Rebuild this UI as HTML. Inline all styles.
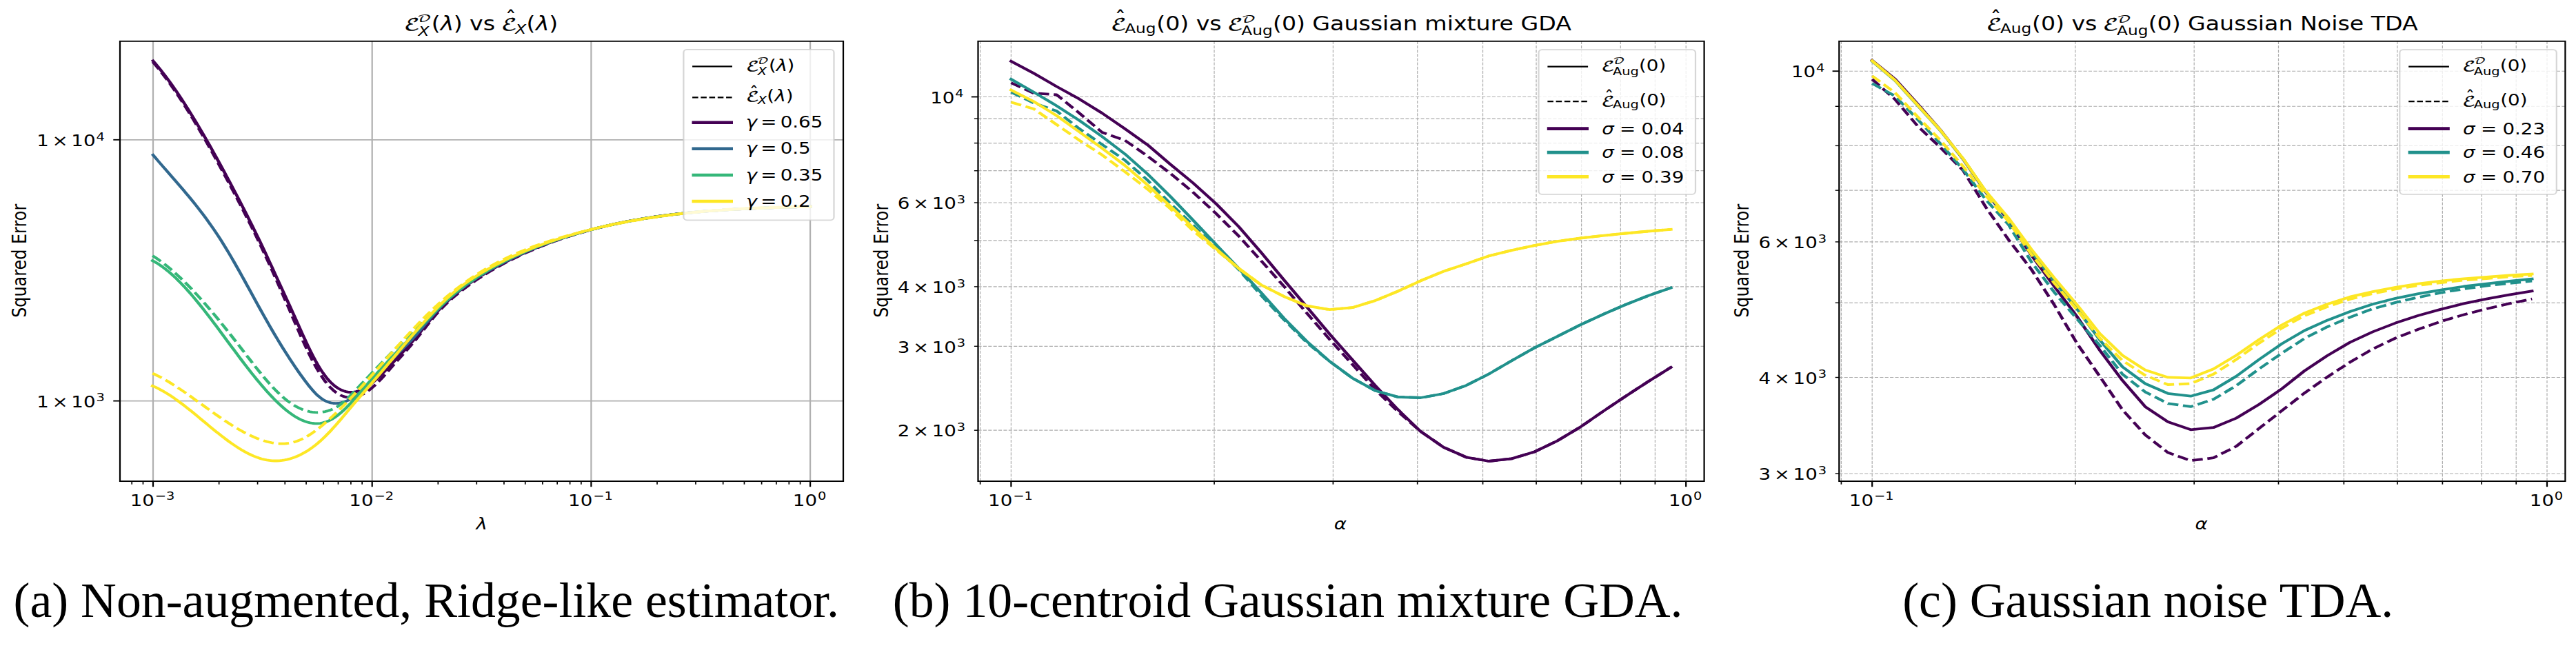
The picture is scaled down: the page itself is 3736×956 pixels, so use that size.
<!DOCTYPE html>
<html lang="en"><head><meta charset="utf-8"><title>Figure</title>
<style>
html,body{margin:0;padding:0;background:#fff;}
body{width:3736px;height:956px;overflow:hidden;position:relative;}
svg{position:absolute;left:0;top:0;display:block;}
.cap{position:absolute;top:836.02px;font-family:'Liberation Serif','DejaVu Serif',serif;font-size:71.75px;line-height:1;color:#000;white-space:nowrap;margin:0;}
</style></head><body>
<svg width="3736" height="956" viewBox="0 0 3736 956">
<rect width="3736" height="956" fill="#fff"/>
<g transform="scale(1.2,1)">
<g id="c1">
<line x1="185" y1="59.8" x2="185" y2="698.1" stroke="#b0b0b0" stroke-width="1.85" />
<line x1="449.75" y1="59.8" x2="449.75" y2="698.1" stroke="#b0b0b0" stroke-width="1.85" />
<line x1="714.5" y1="59.8" x2="714.5" y2="698.1" stroke="#b0b0b0" stroke-width="1.85" />
<line x1="979.25" y1="59.8" x2="979.25" y2="698.1" stroke="#b0b0b0" stroke-width="1.85" />
<line x1="145" y1="202.8" x2="1019.17" y2="202.8" stroke="#b0b0b0" stroke-width="1.85" />
<line x1="145" y1="581.6" x2="1019.17" y2="581.6" stroke="#b0b0b0" stroke-width="1.85" />
<clipPath id="cp1"><rect x="145" y="59.8" width="874.17" height="638.3"/></clipPath><g clip-path="url(#cp1)">
<path d="M185,88.31 L188.07,92.59 L191.14,97.01 L194.2,101.57 L197.27,106.25 L200.34,111.07 L203.41,116.01 L206.47,121.07 L209.54,126.25 L212.61,131.55 L215.68,136.95 L218.74,142.46 L221.81,148.08 L224.88,153.79 L227.95,159.61 L231.01,165.51 L234.08,171.51 L237.15,177.59 L240.22,183.75 L243.28,189.99 L246.35,196.31 L249.42,202.7 L252.49,209.16 L255.55,215.68 L258.62,222.27 L261.69,228.91 L264.76,235.6 L267.82,242.35 L270.89,249.14 L273.96,255.98 L277.03,262.86 L280.09,269.78 L283.16,276.74 L286.23,283.75 L289.3,290.81 L292.36,297.93 L295.43,305.1 L298.5,312.34 L301.57,319.64 L304.64,327.01 L307.7,334.46 L310.77,341.98 L313.84,349.58 L316.91,357.27 L319.97,365.05 L323.04,372.9 L326.11,380.83 L329.18,388.8 L332.24,396.81 L335.31,404.84 L338.38,412.88 L341.45,420.9 L344.51,428.93 L347.58,436.97 L350.65,445.03 L353.72,453.13 L356.78,461.28 L359.85,469.48 L362.92,477.67 L365.99,485.8 L369.05,493.8 L372.12,501.62 L375.19,509.19 L378.26,516.46 L381.32,523.36 L384.39,529.84 L387.46,535.84 L390.53,541.32 L393.59,546.28 L396.66,550.72 L399.73,554.66 L402.8,558.1 L405.86,561.05 L408.93,563.53 L412,565.53 L415.07,567.07 L418.14,568.16 L421.2,568.81 L424.27,569.01 L427.34,568.79 L430.41,568.15 L433.47,567.1 L436.54,565.65 L439.61,563.84 L442.68,561.69 L445.74,559.23 L448.81,556.49 L451.88,553.5 L454.95,550.29 L458.01,546.88 L461.08,543.32 L464.15,539.61 L467.22,535.8 L470.28,531.91 L473.35,527.98 L476.42,524.02 L479.49,520.08 L482.55,516.16 L485.62,512.24 L488.69,508.31 L491.76,504.34 L494.82,500.3 L497.89,496.17 L500.96,491.92 L504.03,487.54 L507.09,483.08 L510.16,478.55 L513.23,474.01 L516.3,469.47 L519.36,464.98 L522.43,460.57 L525.5,456.26 L528.57,452.11 L531.64,448.12 L534.7,444.29 L537.77,440.62 L540.84,437.08 L543.91,433.68 L546.97,430.4 L550.04,427.24 L553.11,424.18 L556.18,421.23 L559.24,418.38 L562.31,415.62 L565.38,412.94 L568.45,410.35 L571.51,407.84 L574.58,405.39 L577.65,403.01 L580.72,400.69 L583.78,398.42 L586.85,396.2 L589.92,394.02 L592.99,391.89 L596.05,389.79 L599.12,387.73 L602.19,385.71 L605.26,383.73 L608.32,381.79 L611.39,379.88 L614.46,378.01 L617.53,376.18 L620.59,374.38 L623.66,372.61 L626.73,370.88 L629.8,369.18 L632.86,367.51 L635.93,365.88 L639,364.28 L642.07,362.71 L645.14,361.16 L648.2,359.65 L651.27,358.17 L654.34,356.71 L657.41,355.29 L660.47,353.89 L663.54,352.51 L666.61,351.16 L669.68,349.84 L672.74,348.54 L675.81,347.27 L678.88,346.02 L681.95,344.79 L685.01,343.59 L688.08,342.41 L691.15,341.26 L694.22,340.12 L697.28,339.01 L700.35,337.93 L703.42,336.86 L706.49,335.82 L709.55,334.79 L712.62,333.79 L715.69,332.81 L718.76,331.85 L721.82,330.91 L724.89,330 L727.96,329.1 L731.03,328.22 L734.09,327.36 L737.16,326.52 L740.23,325.7 L743.3,324.9 L746.36,324.12 L749.43,323.35 L752.5,322.6 L755.57,321.87 L758.64,321.16 L761.7,320.47 L764.77,319.79 L767.84,319.13 L770.91,318.49 L773.97,317.86 L777.04,317.25 L780.11,316.65 L783.18,316.07 L786.24,315.51 L789.31,314.96 L792.38,314.42 L795.45,313.9 L798.51,313.39 L801.58,312.9 L804.65,312.42 L807.72,311.96 L810.78,311.51 L813.85,311.07 L816.92,310.64 L819.99,310.23 L823.05,309.82 L826.12,309.43 L829.19,309.06 L832.26,308.69 L835.32,308.33 L838.39,307.99 L841.46,307.65 L844.53,307.33 L847.59,307.02 L850.66,306.71 L853.73,306.42 L856.8,306.14 L859.86,305.86 L862.93,305.6 L866,305.34 L869.07,305.09 L872.14,304.85 L875.2,304.62 L878.27,304.39 L881.34,304.17 L884.41,303.96 L887.47,303.76 L890.54,303.56 L893.61,303.37 L896.68,303.18 L899.74,303.01 L902.81,302.83 L905.88,302.66 L908.95,302.5 L912.01,302.34 L915.08,302.19 L918.15,302.04 L921.22,301.9 L924.28,301.75 L927.35,301.62 L930.42,301.48 L933.49,301.35 L936.55,301.22 L939.62,301.1 L942.69,300.98 L945.76,300.85 L948.82,300.73 L951.89,300.62 L954.96,300.5 L958.03,300.38 L961.09,300.27 L964.16,300.16 L967.23,300.04 L970.3,299.93 L973.36,299.81 L976.43,299.7 L979.5,299.59" fill="none" stroke="#440154" stroke-width="3.8" stroke-linejoin="round" stroke-linecap="square" />
<path d="M184.58,89.74 L187.65,93.99 L190.72,98.38 L193.79,102.92 L196.86,107.6 L199.93,112.43 L203,117.38 L206.07,122.47 L209.14,127.68 L212.21,133.02 L215.28,138.47 L218.34,144.04 L221.41,149.71 L224.48,155.49 L227.55,161.36 L230.62,167.34 L233.69,173.4 L236.76,179.55 L239.83,185.78 L242.9,192.09 L245.97,198.48 L249.04,204.93 L252.11,211.45 L255.17,218.04 L258.24,224.67 L261.31,231.36 L264.38,238.1 L267.45,244.88 L270.52,251.7 L273.59,258.56 L276.66,265.44 L279.73,272.36 L282.8,279.32 L285.87,286.33 L288.94,293.38 L292,300.49 L295.07,307.66 L298.14,314.9 L301.21,322.21 L304.28,329.59 L307.35,337.06 L310.42,344.62 L313.49,352.28 L316.56,360.03 L319.63,367.89 L322.7,375.85 L325.77,383.91 L328.83,392.04 L331.9,400.26 L334.97,408.55 L338.04,416.89 L341.11,425.29 L344.18,433.73 L347.25,442.21 L350.32,450.72 L353.39,459.25 L356.46,467.79 L359.53,476.31 L362.6,484.73 L365.66,493.03 L368.73,501.13 L371.8,508.98 L374.87,516.53 L377.94,523.73 L381.01,530.57 L384.08,537.01 L387.15,543.02 L390.22,548.59 L393.29,553.67 L396.36,558.25 L399.43,562.3 L402.49,565.83 L405.56,568.84 L408.63,571.34 L411.7,573.35 L414.77,574.89 L417.84,575.96 L420.91,576.57 L423.98,576.74 L427.05,576.48 L430.12,575.81 L433.19,574.73 L436.26,573.25 L439.32,571.39 L442.39,569.17 L445.46,566.59 L448.53,563.68 L451.6,560.48 L454.67,557.02 L457.74,553.34 L460.81,549.49 L463.88,545.48 L466.95,541.37 L470.02,537.18 L473.09,532.96 L476.16,528.73 L479.22,524.54 L482.29,520.4 L485.36,516.29 L488.43,512.17 L491.5,508.04 L494.57,503.86 L497.64,499.61 L500.71,495.28 L503.78,490.83 L506.85,486.27 L509.92,481.64 L512.99,476.98 L516.05,472.32 L519.12,467.7 L522.19,463.17 L525.26,458.75 L528.33,454.5 L531.4,450.42 L534.47,446.53 L537.54,442.8 L540.61,439.23 L543.68,435.81 L546.75,432.52 L549.82,429.36 L552.88,426.31 L555.95,423.36 L559.02,420.51 L562.09,417.75 L565.16,415.05 L568.23,412.42 L571.3,409.84 L574.37,407.32 L577.44,404.85 L580.51,402.43 L583.58,400.07 L586.65,397.75 L589.71,395.49 L592.78,393.27 L595.85,391.1 L598.92,388.98 L601.99,386.9 L605.06,384.86 L608.13,382.87 L611.2,380.92 L614.27,379.01 L617.34,377.14 L620.41,375.3 L623.48,373.51 L626.54,371.75 L629.61,370.03 L632.68,368.34 L635.75,366.68 L638.82,365.06 L641.89,363.47 L644.96,361.9 L648.03,360.37 L651.1,358.86 L654.17,357.38 L657.24,355.93 L660.31,354.5 L663.37,353.1 L666.44,351.73 L669.51,350.38 L672.58,349.06 L675.65,347.76 L678.72,346.49 L681.79,345.24 L684.86,344.01 L687.93,342.81 L691,341.64 L694.07,340.48 L697.14,339.35 L700.2,338.24 L703.27,337.16 L706.34,336.1 L709.41,335.06 L712.48,334.04 L715.55,333.04 L718.62,332.07 L721.69,331.12 L724.76,330.18 L727.83,329.27 L730.9,328.38 L733.97,327.51 L737.04,326.66 L740.1,325.82 L743.17,325.01 L746.24,324.22 L749.31,323.44 L752.38,322.68 L755.45,321.95 L758.52,321.22 L761.59,320.52 L764.66,319.84 L767.73,319.17 L770.8,318.52 L773.87,317.88 L776.93,317.27 L780,316.66 L783.07,316.08 L786.14,315.51 L789.21,314.95 L792.28,314.41 L795.35,313.89 L798.42,313.38 L801.49,312.88 L804.56,312.4 L807.63,311.93 L810.7,311.47 L813.76,311.03 L816.83,310.6 L819.9,310.19 L822.97,309.79 L826.04,309.39 L829.11,309.01 L832.18,308.65 L835.25,308.29 L838.32,307.95 L841.39,307.61 L844.46,307.29 L847.53,306.98 L850.59,306.67 L853.66,306.38 L856.73,306.1 L859.8,305.82 L862.87,305.56 L865.94,305.3 L869.01,305.05 L872.08,304.81 L875.15,304.58 L878.22,304.36 L881.29,304.14 L884.36,303.93 L887.42,303.73 L890.49,303.54 L893.56,303.35 L896.63,303.16 L899.7,302.99 L902.77,302.82 L905.84,302.65 L908.91,302.49 L911.98,302.33 L915.05,302.18 L918.12,302.04 L921.19,301.89 L924.25,301.75 L927.32,301.62 L930.39,301.49 L933.46,301.36 L936.53,301.23 L939.6,301.11 L942.67,300.98 L945.74,300.87 L948.81,300.75 L951.88,300.63 L954.95,300.52 L958.02,300.4 L961.08,300.29 L964.15,300.17 L967.22,300.06 L970.29,299.95 L973.36,299.83 L976.43,299.72 L979.5,299.6" fill="none" stroke="#440154" stroke-width="3.8" stroke-linejoin="round" stroke-linecap="butt" stroke-dasharray="12.9 5.6" />
<path d="M185,224.87 L188.07,229.2 L191.14,233.5 L194.2,237.76 L197.27,242 L200.34,246.22 L203.41,250.43 L206.47,254.64 L209.54,258.86 L212.61,263.09 L215.68,267.34 L218.74,271.62 L221.81,275.93 L224.88,280.29 L227.95,284.69 L231.01,289.16 L234.08,293.69 L237.15,298.29 L240.22,302.97 L243.28,307.74 L246.35,312.6 L249.42,317.57 L252.49,322.65 L255.55,327.84 L258.62,333.16 L261.69,338.61 L264.76,344.2 L267.82,349.94 L270.89,355.83 L273.96,361.86 L277.03,368.02 L280.09,374.29 L283.16,380.67 L286.23,387.13 L289.3,393.67 L292.36,400.27 L295.43,406.92 L298.5,413.61 L301.57,420.32 L304.64,427.04 L307.7,433.75 L310.77,440.45 L313.84,447.12 L316.91,453.75 L319.97,460.32 L323.04,466.81 L326.11,473.24 L329.18,479.57 L332.24,485.82 L335.31,491.99 L338.38,498.06 L341.45,504.03 L344.51,509.91 L347.58,515.69 L350.65,521.36 L353.72,526.93 L356.78,532.38 L359.85,537.72 L362.92,542.95 L365.99,548.06 L369.05,553.04 L372.12,557.85 L375.19,562.43 L378.26,566.71 L381.32,570.65 L384.39,574.16 L387.46,577.21 L390.53,579.74 L393.59,581.77 L396.66,583.31 L399.73,584.38 L402.8,585.01 L405.86,585.21 L408.93,585 L412,584.4 L415.07,583.42 L418.14,582.09 L421.2,580.42 L424.27,578.43 L427.34,576.15 L430.41,573.58 L433.47,570.75 L436.54,567.69 L439.61,564.41 L442.68,560.94 L445.74,557.32 L448.81,553.56 L451.88,549.69 L454.95,545.74 L458.01,541.74 L461.08,537.7 L464.15,533.66 L467.22,529.64 L470.28,525.68 L473.35,521.78 L476.42,517.99 L479.49,514.31 L482.55,510.72 L485.62,507.17 L488.69,503.61 L491.76,500 L494.82,496.29 L497.89,492.45 L500.96,488.43 L504.03,484.26 L507.09,479.99 L510.16,475.65 L513.23,471.27 L516.3,466.9 L519.36,462.56 L522.43,458.29 L525.5,454.13 L528.57,450.12 L531.64,446.27 L534.7,442.58 L537.77,439.03 L540.84,435.62 L543.91,432.32 L546.97,429.14 L550.04,426.05 L553.11,423.06 L556.18,420.16 L559.24,417.34 L562.31,414.61 L565.38,411.96 L568.45,409.38 L571.51,406.87 L574.58,404.42 L577.65,402.04 L580.72,399.72 L583.78,397.45 L586.85,395.22 L589.92,393.05 L592.99,390.91 L596.05,388.82 L599.12,386.78 L602.19,384.77 L605.26,382.8 L608.32,380.87 L611.39,378.99 L614.46,377.14 L617.53,375.32 L620.59,373.55 L623.66,371.81 L626.73,370.1 L629.8,368.43 L632.86,366.79 L635.93,365.19 L639,363.61 L642.07,362.07 L645.14,360.56 L648.2,359.08 L651.27,357.63 L654.34,356.2 L657.41,354.81 L660.47,353.44 L663.54,352.09 L666.61,350.77 L669.68,349.48 L672.74,348.21 L675.81,346.96 L678.88,345.73 L681.95,344.53 L685.01,343.35 L688.08,342.19 L691.15,341.06 L694.22,339.94 L697.28,338.85 L700.35,337.78 L703.42,336.73 L706.49,335.71 L709.55,334.7 L712.62,333.71 L715.69,332.75 L718.76,331.8 L721.82,330.87 L724.89,329.97 L727.96,329.08 L731.03,328.21 L734.09,327.36 L737.16,326.53 L740.23,325.72 L743.3,324.92 L746.36,324.15 L749.43,323.39 L752.5,322.64 L755.57,321.92 L758.64,321.21 L761.7,320.52 L764.77,319.85 L767.84,319.19 L770.91,318.55 L773.97,317.92 L777.04,317.31 L780.11,316.72 L783.18,316.14 L786.24,315.57 L789.31,315.02 L792.38,314.48 L795.45,313.96 L798.51,313.45 L801.58,312.96 L804.65,312.48 L807.72,312.01 L810.78,311.56 L813.85,311.11 L816.92,310.68 L819.99,310.27 L823.05,309.86 L826.12,309.47 L829.19,309.09 L832.26,308.72 L835.32,308.36 L838.39,308.01 L841.46,307.67 L844.53,307.34 L847.59,307.02 L850.66,306.72 L853.73,306.42 L856.8,306.13 L859.86,305.85 L862.93,305.58 L866,305.32 L869.07,305.06 L872.14,304.82 L875.2,304.58 L878.27,304.35 L881.34,304.13 L884.41,303.92 L887.47,303.71 L890.54,303.51 L893.61,303.32 L896.68,303.13 L899.74,302.95 L902.81,302.77 L905.88,302.6 L908.95,302.44 L912.01,302.28 L915.08,302.13 L918.15,301.98 L921.22,301.83 L924.28,301.69 L927.35,301.56 L930.42,301.42 L933.49,301.29 L936.55,301.17 L939.62,301.04 L942.69,300.93 L945.76,300.81 L948.82,300.69 L951.89,300.58 L954.96,300.47 L958.03,300.36 L961.09,300.25 L964.16,300.15 L967.23,300.04 L970.3,299.94 L973.36,299.83 L976.43,299.73 L979.5,299.62" fill="none" stroke="#31688e" stroke-width="3.8" stroke-linejoin="round" stroke-linecap="square" />
<path d="M184.33,378.11 L187.4,380.11 L190.47,382.31 L193.54,384.71 L196.61,387.3 L199.68,390.07 L202.75,393.02 L205.82,396.13 L208.89,399.4 L211.96,402.83 L215.03,406.4 L218.1,410.11 L221.18,413.95 L224.25,417.92 L227.32,422 L230.39,426.2 L233.46,430.49 L236.53,434.88 L239.6,439.36 L242.67,443.93 L245.74,448.56 L248.81,453.27 L251.88,458.03 L254.95,462.84 L258.02,467.7 L261.09,472.6 L264.16,477.53 L267.23,482.49 L270.3,487.46 L273.37,492.44 L276.44,497.42 L279.51,502.4 L282.58,507.36 L285.65,512.31 L288.72,517.23 L291.79,522.12 L294.86,526.96 L297.93,531.76 L301,536.5 L304.07,541.19 L307.14,545.8 L310.21,550.33 L313.28,554.78 L316.35,559.14 L319.42,563.4 L322.49,567.56 L325.56,571.61 L328.63,575.53 L331.7,579.33 L334.77,582.99 L337.84,586.51 L340.91,589.87 L343.98,593.06 L347.05,596.07 L350.12,598.9 L353.19,601.52 L356.26,603.94 L359.33,606.13 L362.4,608.09 L365.47,609.8 L368.54,611.26 L371.61,612.45 L374.68,613.37 L377.75,613.99 L380.82,614.32 L383.89,614.34 L386.96,614.04 L390.03,613.41 L393.1,612.43 L396.17,611.1 L399.24,609.41 L402.31,607.35 L405.38,604.94 L408.45,602.21 L411.52,599.2 L414.59,595.92 L417.66,592.42 L420.73,588.72 L423.8,584.85 L426.87,580.84 L429.94,576.72 L433.01,572.51 L436.08,568.26 L439.16,563.98 L442.23,559.71 L445.3,555.47 L448.37,551.27 L451.44,547.1 L454.51,542.96 L457.58,538.87 L460.65,534.81 L463.72,530.8 L466.79,526.83 L469.86,522.89 L472.93,518.99 L476,515.11 L479.07,511.25 L482.14,507.4 L485.21,503.55 L488.28,499.71 L491.35,495.85 L494.42,491.98 L497.49,488.08 L500.56,484.17 L503.63,480.24 L506.7,476.31 L509.77,472.38 L512.84,468.47 L515.91,464.57 L518.98,460.7 L522.05,456.87 L525.12,453.08 L528.19,449.35 L531.26,445.67 L534.33,442.07 L537.4,438.54 L540.47,435.1 L543.54,431.75 L546.61,428.5 L549.68,425.36 L552.75,422.32 L555.82,419.38 L558.89,416.53 L561.96,413.77 L565.03,411.1 L568.1,408.5 L571.17,405.98 L574.24,403.53 L577.31,401.15 L580.38,398.83 L583.45,396.56 L586.52,394.35 L589.59,392.18 L592.66,390.06 L595.73,387.99 L598.8,385.95 L601.87,383.96 L604.94,382.02 L608.01,380.11 L611.08,378.24 L614.15,376.42 L617.22,374.63 L620.29,372.87 L623.36,371.16 L626.43,369.48 L629.5,367.84 L632.57,366.23 L635.64,364.65 L638.71,363.1 L641.78,361.59 L644.85,360.11 L647.92,358.65 L650.99,357.23 L654.06,355.83 L657.14,354.46 L660.21,353.12 L663.28,351.8 L666.35,350.5 L669.42,349.23 L672.49,347.99 L675.56,346.76 L678.63,345.56 L681.7,344.37 L684.77,343.21 L687.84,342.07 L690.91,340.96 L693.98,339.86 L697.05,338.79 L700.12,337.73 L703.19,336.7 L706.26,335.68 L709.33,334.69 L712.4,333.71 L715.47,332.76 L718.54,331.82 L721.61,330.9 L724.68,330 L727.75,329.13 L730.82,328.26 L733.89,327.42 L736.96,326.6 L740.03,325.79 L743.1,325 L746.17,324.23 L749.24,323.47 L752.31,322.73 L755.38,322.01 L758.45,321.31 L761.52,320.62 L764.59,319.95 L767.66,319.29 L770.73,318.65 L773.8,318.02 L776.87,317.41 L779.94,316.81 L783.01,316.23 L786.08,315.67 L789.15,315.11 L792.22,314.57 L795.29,314.05 L798.36,313.54 L801.43,313.04 L804.5,312.56 L807.57,312.08 L810.64,311.63 L813.71,311.18 L816.78,310.75 L819.85,310.32 L822.92,309.91 L825.99,309.52 L829.06,309.13 L832.13,308.75 L835.2,308.39 L838.27,308.04 L841.34,307.69 L844.41,307.36 L847.48,307.04 L850.55,306.72 L853.62,306.42 L856.69,306.13 L859.76,305.84 L862.83,305.57 L865.9,305.3 L868.97,305.04 L872.05,304.79 L875.12,304.55 L878.19,304.32 L881.26,304.09 L884.33,303.88 L887.4,303.67 L890.47,303.46 L893.54,303.26 L896.61,303.07 L899.68,302.89 L902.75,302.71 L905.82,302.54 L908.89,302.38 L911.96,302.22 L915.03,302.06 L918.1,301.91 L921.17,301.77 L924.24,301.63 L927.31,301.49 L930.38,301.36 L933.45,301.23 L936.52,301.11 L939.59,300.99 L942.66,300.87 L945.73,300.76 L948.8,300.65 L951.87,300.54 L954.94,300.44 L958.01,300.34 L961.08,300.24 L964.15,300.14 L967.22,300.04 L970.29,299.94 L973.36,299.85 L976.43,299.76 L979.5,299.66" fill="none" stroke="#35b779" stroke-width="3.8" stroke-linejoin="round" stroke-linecap="square" />
<path d="M184.33,370.9 L187.4,373.27 L190.47,375.76 L193.54,378.37 L196.61,381.09 L199.68,383.93 L202.75,386.87 L205.82,389.92 L208.89,393.08 L211.96,396.33 L215.03,399.68 L218.1,403.13 L221.18,406.66 L224.25,410.29 L227.32,413.99 L230.39,417.78 L233.46,421.65 L236.53,425.59 L239.6,429.6 L242.67,433.69 L245.74,437.84 L248.81,442.05 L251.88,446.32 L254.95,450.64 L258.02,455.02 L261.09,459.45 L264.16,463.93 L267.23,468.45 L270.3,473.01 L273.37,477.61 L276.44,482.24 L279.51,486.91 L282.58,491.6 L285.65,496.32 L288.72,501.06 L291.79,505.82 L294.86,510.59 L297.93,515.37 L301,520.15 L304.07,524.9 L307.14,529.61 L310.21,534.27 L313.28,538.87 L316.35,543.39 L319.42,547.82 L322.49,552.14 L325.56,556.33 L328.63,560.39 L331.7,564.3 L334.77,568.05 L337.84,571.61 L340.91,574.99 L343.98,578.15 L347.05,581.1 L350.12,583.82 L353.19,586.32 L356.26,588.59 L359.33,590.63 L362.4,592.43 L365.47,594 L368.54,595.33 L371.61,596.42 L374.68,597.26 L377.75,597.85 L380.82,598.2 L383.89,598.29 L386.96,598.13 L390.03,597.71 L393.1,597.03 L396.17,596.08 L399.24,594.87 L402.31,593.37 L405.38,591.56 L408.45,589.4 L411.52,586.87 L414.59,583.96 L417.66,580.72 L420.73,577.23 L423.8,573.53 L426.87,569.7 L429.94,565.8 L433.01,561.89 L436.08,557.99 L439.16,554.1 L442.23,550.23 L445.3,546.36 L448.37,542.51 L451.44,538.67 L454.51,534.83 L457.58,531.01 L460.65,527.2 L463.72,523.4 L466.79,519.62 L469.86,515.84 L472.93,512.07 L476,508.31 L479.07,504.57 L482.14,500.84 L485.21,497.12 L488.28,493.42 L491.35,489.74 L494.42,486.08 L497.49,482.44 L500.56,478.82 L503.63,475.24 L506.7,471.68 L509.77,468.15 L512.84,464.65 L515.91,461.19 L518.98,457.76 L522.05,454.37 L525.12,451.02 L528.19,447.72 L531.26,444.45 L534.33,441.24 L537.4,438.07 L540.47,434.95 L543.54,431.88 L546.61,428.86 L549.68,425.9 L552.75,422.99 L555.82,420.14 L558.89,417.34 L561.96,414.6 L565.03,411.91 L568.1,409.28 L571.17,406.7 L574.24,404.18 L577.31,401.71 L580.38,399.3 L583.45,396.94 L586.52,394.63 L589.59,392.38 L592.66,390.18 L595.73,388.04 L598.8,385.95 L601.87,383.91 L604.94,381.91 L608.01,379.97 L611.08,378.07 L614.15,376.21 L617.22,374.4 L620.29,372.64 L623.36,370.91 L626.43,369.22 L629.5,367.58 L632.57,365.97 L635.64,364.39 L638.71,362.86 L641.78,361.35 L644.85,359.88 L647.92,358.44 L650.99,357.04 L654.06,355.66 L657.14,354.3 L660.21,352.98 L663.28,351.68 L666.35,350.4 L669.42,349.15 L672.49,347.92 L675.56,346.71 L678.63,345.52 L681.7,344.36 L684.77,343.21 L687.84,342.08 L690.91,340.98 L693.98,339.89 L697.05,338.83 L700.12,337.78 L703.19,336.76 L706.26,335.75 L709.33,334.76 L712.4,333.8 L715.47,332.85 L718.54,331.92 L721.61,331 L724.68,330.11 L727.75,329.23 L730.82,328.38 L733.89,327.54 L736.96,326.71 L740.03,325.91 L743.1,325.12 L746.17,324.35 L749.24,323.59 L752.31,322.85 L755.38,322.13 L758.45,321.42 L761.52,320.73 L764.59,320.06 L767.66,319.4 L770.73,318.75 L773.8,318.12 L776.87,317.51 L779.94,316.91 L783.01,316.32 L786.08,315.75 L789.15,315.19 L792.22,314.65 L795.29,314.12 L798.36,313.6 L801.43,313.1 L804.5,312.61 L807.57,312.13 L810.64,311.67 L813.71,311.22 L816.78,310.78 L819.85,310.35 L822.92,309.93 L825.99,309.53 L829.06,309.13 L832.13,308.75 L835.2,308.38 L838.27,308.02 L841.34,307.67 L844.41,307.33 L847.48,307 L850.55,306.68 L853.62,306.38 L856.69,306.08 L859.76,305.79 L862.83,305.51 L865.9,305.24 L868.97,304.97 L872.05,304.72 L875.12,304.47 L878.19,304.24 L881.26,304.01 L884.33,303.79 L887.4,303.57 L890.47,303.37 L893.54,303.17 L896.61,302.98 L899.68,302.79 L902.75,302.61 L905.82,302.44 L908.89,302.27 L911.96,302.11 L915.03,301.96 L918.1,301.81 L921.17,301.67 L924.24,301.53 L927.31,301.4 L930.38,301.27 L933.45,301.15 L936.52,301.03 L939.59,300.92 L942.66,300.81 L945.73,300.7 L948.8,300.6 L951.87,300.5 L954.94,300.41 L958.01,300.31 L961.08,300.22 L964.15,300.14 L967.22,300.05 L970.29,299.97 L973.36,299.89 L976.43,299.81 L979.5,299.73" fill="none" stroke="#35b779" stroke-width="3.8" stroke-linejoin="round" stroke-linecap="butt" stroke-dasharray="12.9 5.6" />
<path d="M184.33,559.83 L187.4,561.43 L190.47,563.18 L193.54,565.07 L196.61,567.08 L199.68,569.23 L202.75,571.48 L205.82,573.85 L208.89,576.31 L211.96,578.87 L215.03,581.51 L218.1,584.23 L221.18,587.01 L224.25,589.86 L227.32,592.76 L230.39,595.71 L233.46,598.7 L236.53,601.71 L239.6,604.75 L242.67,607.81 L245.74,610.87 L248.81,613.93 L251.88,616.99 L254.95,620.03 L258.02,623.04 L261.09,626.03 L264.16,628.97 L267.23,631.87 L270.3,634.72 L273.37,637.5 L276.44,640.22 L279.51,642.86 L282.58,645.41 L285.65,647.87 L288.72,650.23 L291.79,652.48 L294.86,654.62 L297.93,656.63 L301,658.52 L304.07,660.26 L307.14,661.86 L310.21,663.3 L313.28,664.59 L316.35,665.7 L319.42,666.63 L322.49,667.38 L325.56,667.95 L328.63,668.32 L331.7,668.51 L334.77,668.51 L337.84,668.32 L340.91,667.94 L343.98,667.38 L347.05,666.63 L350.12,665.69 L353.19,664.57 L356.26,663.25 L359.33,661.76 L362.4,660.07 L365.47,658.2 L368.54,656.15 L371.61,653.91 L374.68,651.48 L377.75,648.87 L380.82,646.07 L383.89,643.09 L386.96,639.92 L390.03,636.56 L393.1,633.03 L396.17,629.31 L399.24,625.45 L402.31,621.45 L405.38,617.33 L408.45,613.12 L411.52,608.83 L414.59,604.49 L417.66,600.11 L420.73,595.72 L423.8,591.33 L426.87,586.97 L429.94,582.66 L433.01,578.38 L436.08,574.13 L439.16,569.89 L442.23,565.67 L445.3,561.44 L448.37,557.19 L451.44,552.92 L454.51,548.64 L457.58,544.33 L460.65,540.01 L463.72,535.67 L466.79,531.32 L469.86,526.96 L472.93,522.6 L476,518.22 L479.07,513.85 L482.14,509.48 L485.21,505.11 L488.28,500.76 L491.35,496.41 L494.42,492.08 L497.49,487.76 L500.56,483.47 L503.63,479.21 L506.7,474.98 L509.77,470.8 L512.84,466.66 L515.91,462.58 L518.98,458.55 L522.05,454.59 L525.12,450.7 L528.19,446.89 L531.26,443.16 L534.33,439.52 L537.4,435.97 L540.47,432.53 L543.54,429.19 L546.61,425.96 L549.68,422.85 L552.75,419.85 L555.82,416.95 L558.89,414.16 L561.96,411.45 L565.03,408.84 L568.1,406.31 L571.17,403.86 L574.24,401.48 L577.31,399.17 L580.38,396.92 L583.45,394.72 L586.52,392.58 L589.59,390.48 L592.66,388.43 L595.73,386.42 L598.8,384.45 L601.87,382.52 L604.94,380.63 L608.01,378.78 L611.08,376.96 L614.15,375.19 L617.22,373.45 L620.29,371.75 L623.36,370.08 L626.43,368.45 L629.5,366.84 L632.57,365.28 L635.64,363.74 L638.71,362.23 L641.78,360.76 L644.85,359.31 L647.92,357.89 L650.99,356.5 L654.06,355.14 L657.14,353.8 L660.21,352.49 L663.28,351.2 L666.35,349.93 L669.42,348.69 L672.49,347.47 L675.56,346.27 L678.63,345.09 L681.7,343.93 L684.77,342.8 L687.84,341.68 L690.91,340.59 L693.98,339.51 L697.05,338.46 L700.12,337.42 L703.19,336.41 L706.26,335.41 L709.33,334.44 L712.4,333.48 L715.47,332.54 L718.54,331.62 L721.61,330.72 L724.68,329.84 L727.75,328.97 L730.82,328.12 L733.89,327.3 L736.96,326.48 L740.03,325.69 L743.1,324.91 L746.17,324.15 L749.24,323.4 L752.31,322.68 L755.38,321.96 L758.45,321.27 L761.52,320.59 L764.59,319.92 L767.66,319.27 L770.73,318.64 L773.8,318.02 L776.87,317.41 L779.94,316.82 L783.01,316.25 L786.08,315.68 L789.15,315.14 L792.22,314.6 L795.29,314.08 L798.36,313.57 L801.43,313.08 L804.5,312.6 L807.57,312.13 L810.64,311.67 L813.71,311.23 L816.78,310.79 L819.85,310.37 L822.92,309.96 L825.99,309.57 L829.06,309.18 L832.13,308.8 L835.2,308.44 L838.27,308.08 L841.34,307.74 L844.41,307.41 L847.48,307.08 L850.55,306.77 L853.62,306.47 L856.69,306.17 L859.76,305.88 L862.83,305.61 L865.9,305.34 L868.97,305.08 L872.05,304.83 L875.12,304.58 L878.19,304.35 L881.26,304.12 L884.33,303.9 L887.4,303.69 L890.47,303.48 L893.54,303.28 L896.61,303.09 L899.68,302.9 L902.75,302.72 L905.82,302.55 L908.89,302.38 L911.96,302.22 L915.03,302.06 L918.1,301.91 L921.17,301.77 L924.24,301.62 L927.31,301.49 L930.38,301.35 L933.45,301.22 L936.52,301.1 L939.59,300.98 L942.66,300.86 L945.73,300.75 L948.8,300.64 L951.87,300.53 L954.94,300.42 L958.01,300.32 L961.08,300.22 L964.15,300.12 L967.22,300.02 L970.29,299.93 L973.36,299.84 L976.43,299.74 L979.5,299.65" fill="none" stroke="#fde725" stroke-width="3.8" stroke-linejoin="round" stroke-linecap="square" />
<path d="M184.33,541.54 L187.4,543.25 L190.47,545.07 L193.54,546.97 L196.61,548.96 L199.68,551.03 L202.75,553.18 L205.82,555.4 L208.89,557.68 L211.96,560.03 L215.03,562.42 L218.1,564.87 L221.18,567.36 L224.25,569.9 L227.32,572.46 L230.39,575.06 L233.46,577.68 L236.53,580.32 L239.6,582.97 L242.67,585.63 L245.74,588.29 L248.81,590.95 L251.88,593.6 L254.95,596.24 L258.02,598.87 L261.09,601.47 L264.16,604.04 L267.23,606.57 L270.3,609.07 L273.37,611.53 L276.44,613.94 L279.51,616.29 L282.58,618.58 L285.65,620.81 L288.72,622.97 L291.79,625.05 L294.86,627.05 L297.93,628.97 L301,630.8 L304.07,632.53 L307.14,634.16 L310.21,635.68 L313.28,637.1 L316.35,638.39 L319.42,639.57 L322.49,640.61 L325.56,641.52 L328.63,642.28 L331.7,642.89 L334.77,643.33 L337.84,643.59 L340.91,643.67 L343.98,643.57 L347.05,643.25 L350.12,642.73 L353.19,641.99 L356.26,641.02 L359.33,639.81 L362.4,638.36 L365.47,636.67 L368.54,634.77 L371.61,632.67 L374.68,630.37 L377.75,627.9 L380.82,625.27 L383.89,622.49 L386.96,619.57 L390.03,616.53 L393.1,613.38 L396.17,610.14 L399.24,606.82 L402.31,603.42 L405.38,599.95 L408.45,596.4 L411.52,592.8 L414.59,589.13 L417.66,585.41 L420.73,581.63 L423.8,577.8 L426.87,573.92 L429.94,570 L433.01,566.03 L436.08,562.04 L439.16,558.01 L442.23,553.95 L445.3,549.86 L448.37,545.75 L451.44,541.63 L454.51,537.49 L457.58,533.33 L460.65,529.17 L463.72,525.01 L466.79,520.84 L469.86,516.68 L472.93,512.53 L476,508.38 L479.07,504.25 L482.14,500.13 L485.21,496.04 L488.28,491.97 L491.35,487.93 L494.42,483.92 L497.49,479.95 L500.56,476.01 L503.63,472.12 L506.7,468.27 L509.77,464.47 L512.84,460.73 L515.91,457.04 L518.98,453.41 L522.05,449.85 L525.12,446.35 L528.19,442.92 L531.26,439.57 L534.33,436.29 L537.4,433.08 L540.47,429.95 L543.54,426.88 L546.61,423.88 L549.68,420.95 L552.75,418.08 L555.82,415.28 L558.89,412.55 L561.96,409.88 L565.03,407.26 L568.1,404.72 L571.17,402.23 L574.24,399.79 L577.31,397.42 L580.38,395.11 L583.45,392.84 L586.52,390.64 L589.59,388.48 L592.66,386.38 L595.73,384.33 L598.8,382.33 L601.87,380.38 L604.94,378.48 L608.01,376.62 L611.08,374.81 L614.15,373.05 L617.22,371.33 L620.29,369.65 L623.36,368.01 L626.43,366.41 L629.5,364.85 L632.57,363.33 L635.64,361.85 L638.71,360.4 L641.78,358.98 L644.85,357.61 L647.92,356.26 L650.99,354.94 L654.06,353.66 L657.14,352.4 L660.21,351.18 L663.28,349.98 L666.35,348.8 L669.42,347.66 L672.49,346.53 L675.56,345.43 L678.63,344.35 L681.7,343.29 L684.77,342.25 L687.84,341.23 L690.91,340.23 L693.98,339.24 L697.05,338.27 L700.12,337.31 L703.19,336.37 L706.26,335.44 L709.33,334.53 L712.4,333.63 L715.47,332.74 L718.54,331.87 L721.61,331.02 L724.68,330.18 L727.75,329.35 L730.82,328.54 L733.89,327.74 L736.96,326.95 L740.03,326.18 L743.1,325.42 L746.17,324.67 L749.24,323.94 L752.31,323.22 L755.38,322.52 L758.45,321.82 L761.52,321.14 L764.59,320.48 L767.66,319.82 L770.73,319.18 L773.8,318.55 L776.87,317.94 L779.94,317.33 L783.01,316.74 L786.08,316.16 L789.15,315.59 L792.22,315.04 L795.29,314.49 L798.36,313.96 L801.43,313.44 L804.5,312.93 L807.57,312.44 L810.64,311.95 L813.71,311.48 L816.78,311.01 L819.85,310.56 L822.92,310.12 L825.99,309.69 L829.06,309.27 L832.13,308.86 L835.2,308.47 L838.27,308.08 L841.34,307.7 L844.41,307.34 L847.48,306.98 L850.55,306.63 L853.62,306.3 L856.69,305.97 L859.76,305.65 L862.83,305.35 L865.9,305.05 L868.97,304.76 L872.05,304.49 L875.12,304.22 L878.19,303.96 L881.26,303.71 L884.33,303.47 L887.4,303.24 L890.47,303.01 L893.54,302.8 L896.61,302.59 L899.68,302.4 L902.75,302.21 L905.82,302.03 L908.89,301.86 L911.96,301.69 L915.03,301.54 L918.1,301.39 L921.17,301.25 L924.24,301.12 L927.31,301 L930.38,300.88 L933.45,300.77 L936.52,300.67 L939.59,300.58 L942.66,300.49 L945.73,300.41 L948.8,300.34 L951.87,300.28 L954.94,300.22 L958.01,300.17 L961.08,300.12 L964.15,300.08 L967.22,300.05 L970.29,300.02 L973.36,300.01 L976.43,299.99 L979.5,299.99" fill="none" stroke="#fde725" stroke-width="3.8" stroke-linejoin="round" stroke-linecap="butt" stroke-dasharray="12.9 5.6" />
</g>
<line x1="185" y1="698.1" x2="185" y2="706.2" stroke="#000" stroke-width="1.85" />
<line x1="449.75" y1="698.1" x2="449.75" y2="706.2" stroke="#000" stroke-width="1.85" />
<line x1="714.5" y1="698.1" x2="714.5" y2="706.2" stroke="#000" stroke-width="1.85" />
<line x1="979.25" y1="698.1" x2="979.25" y2="706.2" stroke="#000" stroke-width="1.85" />
<line x1="159.34" y1="698.1" x2="159.34" y2="702.7" stroke="#000" stroke-width="1.4" />
<line x1="172.89" y1="698.1" x2="172.89" y2="702.7" stroke="#000" stroke-width="1.4" />
<line x1="264.7" y1="698.1" x2="264.7" y2="702.7" stroke="#000" stroke-width="1.4" />
<line x1="311.32" y1="698.1" x2="311.32" y2="702.7" stroke="#000" stroke-width="1.4" />
<line x1="344.4" y1="698.1" x2="344.4" y2="702.7" stroke="#000" stroke-width="1.4" />
<line x1="370.05" y1="698.1" x2="370.05" y2="702.7" stroke="#000" stroke-width="1.4" />
<line x1="391.02" y1="698.1" x2="391.02" y2="702.7" stroke="#000" stroke-width="1.4" />
<line x1="408.74" y1="698.1" x2="408.74" y2="702.7" stroke="#000" stroke-width="1.4" />
<line x1="424.09" y1="698.1" x2="424.09" y2="702.7" stroke="#000" stroke-width="1.4" />
<line x1="437.64" y1="698.1" x2="437.64" y2="702.7" stroke="#000" stroke-width="1.4" />
<line x1="529.45" y1="698.1" x2="529.45" y2="702.7" stroke="#000" stroke-width="1.4" />
<line x1="576.07" y1="698.1" x2="576.07" y2="702.7" stroke="#000" stroke-width="1.4" />
<line x1="609.15" y1="698.1" x2="609.15" y2="702.7" stroke="#000" stroke-width="1.4" />
<line x1="634.8" y1="698.1" x2="634.8" y2="702.7" stroke="#000" stroke-width="1.4" />
<line x1="655.77" y1="698.1" x2="655.77" y2="702.7" stroke="#000" stroke-width="1.4" />
<line x1="673.49" y1="698.1" x2="673.49" y2="702.7" stroke="#000" stroke-width="1.4" />
<line x1="688.84" y1="698.1" x2="688.84" y2="702.7" stroke="#000" stroke-width="1.4" />
<line x1="702.39" y1="698.1" x2="702.39" y2="702.7" stroke="#000" stroke-width="1.4" />
<line x1="794.2" y1="698.1" x2="794.2" y2="702.7" stroke="#000" stroke-width="1.4" />
<line x1="840.82" y1="698.1" x2="840.82" y2="702.7" stroke="#000" stroke-width="1.4" />
<line x1="873.9" y1="698.1" x2="873.9" y2="702.7" stroke="#000" stroke-width="1.4" />
<line x1="899.55" y1="698.1" x2="899.55" y2="702.7" stroke="#000" stroke-width="1.4" />
<line x1="920.52" y1="698.1" x2="920.52" y2="702.7" stroke="#000" stroke-width="1.4" />
<line x1="938.24" y1="698.1" x2="938.24" y2="702.7" stroke="#000" stroke-width="1.4" />
<line x1="953.59" y1="698.1" x2="953.59" y2="702.7" stroke="#000" stroke-width="1.4" />
<line x1="967.14" y1="698.1" x2="967.14" y2="702.7" stroke="#000" stroke-width="1.4" />
<line x1="136.92" y1="202.8" x2="145" y2="202.8" stroke="#000" stroke-width="1.85" />
<line x1="136.92" y1="581.6" x2="145" y2="581.6" stroke="#000" stroke-width="1.85" />
<rect x="145" y="59.8" width="874.17" height="638.3" fill="none" stroke="#000" stroke-width="1.85"/>
<text x="184.17" y="733.7" font-family="'DejaVu Sans','Liberation Sans',sans-serif" font-size="23.1" text-anchor="middle" >10<tspan dy="-8.55" dx="0.69" font-size="16.17">−3</tspan></text>
<text x="448.92" y="733.7" font-family="'DejaVu Sans','Liberation Sans',sans-serif" font-size="23.1" text-anchor="middle" >10<tspan dy="-8.55" dx="0.69" font-size="16.17">−2</tspan></text>
<text x="713.67" y="733.7" font-family="'DejaVu Sans','Liberation Sans',sans-serif" font-size="23.1" text-anchor="middle" >10<tspan dy="-8.55" dx="0.69" font-size="16.17">−1</tspan></text>
<text x="978.42" y="733.7" font-family="'DejaVu Sans','Liberation Sans',sans-serif" font-size="23.1" text-anchor="middle" >10<tspan dy="-8.55" dx="0.69" font-size="16.17">0</tspan></text>
<text x="126.5" y="212.1" font-family="'DejaVu Sans','Liberation Sans',sans-serif" font-size="23.1" text-anchor="end" >1<tspan dx="3.81">×</tspan><tspan dx="3.81">10</tspan><tspan dy="-8.55" dx="0.69" font-size="16.17">4</tspan></text>
<text x="126.5" y="590.9" font-family="'DejaVu Sans','Liberation Sans',sans-serif" font-size="23.1" text-anchor="end" >1<tspan dx="3.81">×</tspan><tspan dx="3.81">10</tspan><tspan dy="-8.55" dx="0.69" font-size="16.17">3</tspan></text>
<text x="582.33" y="768" font-family="'DejaVu Sans','Liberation Sans',sans-serif" font-size="23.1" text-anchor="middle" font-style="oblique" >λ</text>
<text transform="translate(31.83,378.3) rotate(-90)" font-family="'DejaVu Sans','Liberation Sans',sans-serif" font-size="23.91" text-anchor="middle">Squared Error</text>
<text transform="translate(488.34,43.8) scale(1.177,1)" font-family="'DejaVu Math TeX Gyre','DejaVu Serif',serif" font-size="23.82" stroke="#000" stroke-width="0.33" stroke-linejoin="round">ℰ</text>
<text transform="translate(504.26,32.4) scale(1.218,1)" font-family="'DejaVu Math TeX Gyre','DejaVu Serif',serif" font-size="15.24" stroke="#000" stroke-width="0.21" stroke-linejoin="round">𝒟</text>
<text x="505.33" y="51.7" font-family="'DejaVu Sans','Liberation Sans',sans-serif" font-size="19.39" text-anchor="start" font-style="oblique" >X</text>
<text x="521.45" y="43.8" font-family="'DejaVu Sans','Liberation Sans',sans-serif" font-size="27.7" text-anchor="start" >(</text>
<text x="532.3" y="43.8" font-family="'DejaVu Sans','Liberation Sans',sans-serif" font-size="27.7" text-anchor="start" font-style="oblique" >λ</text>
<text x="548.12" y="43.8" font-family="'DejaVu Sans','Liberation Sans',sans-serif" font-size="27.7" text-anchor="start" >)</text>
<text x="567.59" y="43.8" font-family="'DejaVu Sans','Liberation Sans',sans-serif" font-size="27.7" text-anchor="start" >vs</text>
<text transform="translate(605.76,43.8) scale(1.177,1)" font-family="'DejaVu Math TeX Gyre','DejaVu Serif',serif" font-size="23.82" stroke="#000" stroke-width="0.33" stroke-linejoin="round">ℰ</text>
<text x="617.33" y="37" font-family="'DejaVu Sans','Liberation Sans',sans-serif" font-size="27.7" text-anchor="middle" >ˆ</text>
<text x="622.75" y="48.7" font-family="'DejaVu Sans','Liberation Sans',sans-serif" font-size="19.39" text-anchor="start" font-style="oblique" >X</text>
<text x="636.29" y="43.8" font-family="'DejaVu Sans','Liberation Sans',sans-serif" font-size="27.7" text-anchor="start" >(</text>
<text x="647.47" y="43.8" font-family="'DejaVu Sans','Liberation Sans',sans-serif" font-size="27.7" text-anchor="start" font-style="oblique" >λ</text>
<text x="663.62" y="43.8" font-family="'DejaVu Sans','Liberation Sans',sans-serif" font-size="27.7" text-anchor="start" >)</text>
<rect x="826.17" y="71.8" width="181.75" height="247.5" rx="4" ry="4.6" fill="#fff" fill-opacity="0.8" stroke="#ccc" stroke-opacity="0.8" stroke-width="1.85"/>
<line x1="836.75" y1="96.4" x2="885" y2="96.4" stroke="#000" stroke-width="2.3" />
<line x1="836.75" y1="141.4" x2="885" y2="141.4" stroke="#000" stroke-width="2.3" stroke-dasharray="7.1 3.1"/>
<line x1="836.25" y1="177.7" x2="885.83" y2="177.7" stroke="#440154" stroke-width="4.6" />
<line x1="836.25" y1="215.8" x2="885.83" y2="215.8" stroke="#31688e" stroke-width="4.6" />
<line x1="836.25" y1="254" x2="885.83" y2="254" stroke="#35b779" stroke-width="4.6" />
<line x1="836.25" y1="292" x2="885.83" y2="292" stroke="#fde725" stroke-width="4.6" />
<text transform="translate(901.46,102.7) scale(1.177,1)" font-family="'DejaVu Math TeX Gyre','DejaVu Serif',serif" font-size="19.87" stroke="#000" stroke-width="0.28" stroke-linejoin="round">ℰ</text>
<text transform="translate(914.74,93.19) scale(1.218,1)" font-family="'DejaVu Math TeX Gyre','DejaVu Serif',serif" font-size="12.71" stroke="#000" stroke-width="0.18" stroke-linejoin="round">𝒟</text>
<text x="915.63" y="109.29" font-family="'DejaVu Sans','Liberation Sans',sans-serif" font-size="16.17" text-anchor="start" font-style="oblique" >X</text>
<text x="929.08" y="102.7" font-family="'DejaVu Sans','Liberation Sans',sans-serif" font-size="23.1" text-anchor="start" >(</text>
<text x="938.12" y="102.7" font-family="'DejaVu Sans','Liberation Sans',sans-serif" font-size="23.1" text-anchor="start" font-style="oblique" >λ</text>
<text x="951.31" y="102.7" font-family="'DejaVu Sans','Liberation Sans',sans-serif" font-size="23.1" text-anchor="start" >)</text>
<text transform="translate(901.46,147.3) scale(1.177,1)" font-family="'DejaVu Math TeX Gyre','DejaVu Serif',serif" font-size="19.87" stroke="#000" stroke-width="0.28" stroke-linejoin="round">ℰ</text>
<text x="911.12" y="141.63" font-family="'DejaVu Sans','Liberation Sans',sans-serif" font-size="23.1" text-anchor="middle" >ˆ</text>
<text x="915.63" y="151.39" font-family="'DejaVu Sans','Liberation Sans',sans-serif" font-size="16.17" text-anchor="start" font-style="oblique" >X</text>
<text x="926.92" y="147.3" font-family="'DejaVu Sans','Liberation Sans',sans-serif" font-size="23.1" text-anchor="start" >(</text>
<text x="936.25" y="147.3" font-family="'DejaVu Sans','Liberation Sans',sans-serif" font-size="23.1" text-anchor="start" font-style="oblique" >λ</text>
<text x="949.71" y="147.3" font-family="'DejaVu Sans','Liberation Sans',sans-serif" font-size="23.1" text-anchor="start" >)</text>
<text x="901.5" y="185.3" font-family="'DejaVu Sans','Liberation Sans',sans-serif" font-size="23.1" text-anchor="start" ><tspan font-style="oblique">γ</tspan><tspan dx="4.27">=</tspan><tspan dx="4.27">0.65</tspan></text>
<text x="901.5" y="223.4" font-family="'DejaVu Sans','Liberation Sans',sans-serif" font-size="23.1" text-anchor="start" ><tspan font-style="oblique">γ</tspan><tspan dx="4.27">=</tspan><tspan dx="4.27">0.5</tspan></text>
<text x="901.5" y="261.6" font-family="'DejaVu Sans','Liberation Sans',sans-serif" font-size="23.1" text-anchor="start" ><tspan font-style="oblique">γ</tspan><tspan dx="4.27">=</tspan><tspan dx="4.27">0.35</tspan></text>
<text x="901.5" y="299.6" font-family="'DejaVu Sans','Liberation Sans',sans-serif" font-size="23.1" text-anchor="start" ><tspan font-style="oblique">γ</tspan><tspan dx="4.27">=</tspan><tspan dx="4.27">0.2</tspan></text>
</g>
<g id="c2">
<line x1="1184.68" y1="59.8" x2="1184.68" y2="698.1" stroke="#adadad" stroke-width="1.0" stroke-dasharray="4.3 1.85"/>
<line x1="1222" y1="59.8" x2="1222" y2="698.1" stroke="#adadad" stroke-width="1.0" stroke-dasharray="4.3 1.85"/>
<line x1="1467.54" y1="59.8" x2="1467.54" y2="698.1" stroke="#adadad" stroke-width="1.0" stroke-dasharray="4.3 1.85"/>
<line x1="1611.17" y1="59.8" x2="1611.17" y2="698.1" stroke="#adadad" stroke-width="1.0" stroke-dasharray="4.3 1.85"/>
<line x1="1713.08" y1="59.8" x2="1713.08" y2="698.1" stroke="#adadad" stroke-width="1.0" stroke-dasharray="4.3 1.85"/>
<line x1="1792.13" y1="59.8" x2="1792.13" y2="698.1" stroke="#adadad" stroke-width="1.0" stroke-dasharray="4.3 1.85"/>
<line x1="1856.71" y1="59.8" x2="1856.71" y2="698.1" stroke="#adadad" stroke-width="1.0" stroke-dasharray="4.3 1.85"/>
<line x1="1911.32" y1="59.8" x2="1911.32" y2="698.1" stroke="#adadad" stroke-width="1.0" stroke-dasharray="4.3 1.85"/>
<line x1="1958.62" y1="59.8" x2="1958.62" y2="698.1" stroke="#adadad" stroke-width="1.0" stroke-dasharray="4.3 1.85"/>
<line x1="2000.34" y1="59.8" x2="2000.34" y2="698.1" stroke="#adadad" stroke-width="1.0" stroke-dasharray="4.3 1.85"/>
<line x1="2037.67" y1="59.8" x2="2037.67" y2="698.1" stroke="#adadad" stroke-width="1.0" stroke-dasharray="4.3 1.85"/>
<line x1="1182.08" y1="624.19" x2="2059.67" y2="624.19" stroke="#adadad" stroke-width="1.15" stroke-dasharray="4.25 1.9"/>
<line x1="1182.08" y1="502.33" x2="2059.67" y2="502.33" stroke="#adadad" stroke-width="1.15" stroke-dasharray="4.25 1.9"/>
<line x1="1182.08" y1="415.87" x2="2059.67" y2="415.87" stroke="#adadad" stroke-width="1.15" stroke-dasharray="4.25 1.9"/>
<line x1="1182.08" y1="348.81" x2="2059.67" y2="348.81" stroke="#adadad" stroke-width="1.15" stroke-dasharray="4.25 1.9"/>
<line x1="1182.08" y1="294.02" x2="2059.67" y2="294.02" stroke="#adadad" stroke-width="1.15" stroke-dasharray="4.25 1.9"/>
<line x1="1182.08" y1="247.69" x2="2059.67" y2="247.69" stroke="#adadad" stroke-width="1.15" stroke-dasharray="4.25 1.9"/>
<line x1="1182.08" y1="207.56" x2="2059.67" y2="207.56" stroke="#adadad" stroke-width="1.15" stroke-dasharray="4.25 1.9"/>
<line x1="1182.08" y1="172.16" x2="2059.67" y2="172.16" stroke="#adadad" stroke-width="1.15" stroke-dasharray="4.25 1.9"/>
<line x1="1182.08" y1="140.5" x2="2059.67" y2="140.5" stroke="#adadad" stroke-width="1.15" stroke-dasharray="4.25 1.9"/>
<clipPath id="cp2"><rect x="1182.08" y="59.8" width="877.58" height="638.3"/></clipPath><g clip-path="url(#cp2)">
<path d="M1222,88.8 L1249.5,106.4 L1277,125.5 L1304.5,143.7 L1332,164.1 L1359.5,186.8 L1387,210.2 L1414.5,238.4 L1442,265.5 L1469.5,295.3 L1497,328.6 L1524.5,366.6 L1552,406.4 L1579.5,445.3 L1607,484.7 L1634.5,522 L1662,559.2 L1689.5,594.1 L1717,625.9 L1744.5,648.7 L1772,663.3 L1799.5,669 L1827,665.4 L1854.5,655.5 L1882,639.6 L1909.5,619.9 L1937,597.1 L1964.5,575 L1992,553.5 L2019.5,532.8" fill="none" stroke="#440154" stroke-width="3.8" stroke-linejoin="round" stroke-linecap="square" />
<path d="M1222,120.1 L1249.5,135.3 L1277,137.4 L1304.5,164.1 L1332,192 L1359.5,203.5 L1387,226.5 L1414.5,251.5 L1442,279 L1469.5,309.5 L1497,342.3 L1524.5,378.7 L1552,415.7 L1579.5,454.4 L1607,492.3 L1634.5,528.7 L1662,565.1 L1689.5,597 L1717,625.9 L1744.5,648.7 L1772,663.3 L1799.5,669 L1827,665.4 L1854.5,655.5 L1882,639.6 L1909.5,619.9 L1937,597.1 L1964.5,575 L1992,553.5 L2019.5,532.8" fill="none" stroke="#440154" stroke-width="3.8" stroke-linejoin="round" stroke-linecap="butt" stroke-dasharray="12.9 5.6" />
<path d="M1222,114.9 L1249.5,133.7 L1277,153.5 L1304.5,174.7 L1332,198.1 L1359.5,223.3 L1387,252.5 L1414.5,285 L1442,319.5 L1469.5,354.4 L1497,389.3 L1524.5,425 L1552,461.9 L1579.5,495.3 L1607,524.2 L1634.5,548.5 L1662,566.7 L1689.5,575.9 L1717,577 L1744.5,571 L1772,559.2 L1799.5,542.5 L1827,523.2 L1854.5,504.6 L1882,488.2 L1909.5,471.5 L1937,456.3 L1964.5,442 L1992,429 L2019.5,417.5" fill="none" stroke="#21918c" stroke-width="3.8" stroke-linejoin="round" stroke-linecap="square" />
<path d="M1222,133.7 L1249.5,149.5 L1277,161 L1304.5,186.8 L1332,209.6 L1359.5,232.4 L1387,261.5 L1414.5,295.3 L1442,326.5 L1469.5,359 L1497,390.8 L1524.5,428.8 L1552,464 L1579.5,497 L1607,524.2 L1634.5,548.5 L1662,566.7 L1689.5,575.9 L1717,577 L1744.5,571 L1772,559.2 L1799.5,542.5 L1827,523.2 L1854.5,504.6 L1882,488.2 L1909.5,471.5 L1937,456.3 L1964.5,442 L1992,429 L2019.5,417.5" fill="none" stroke="#21918c" stroke-width="3.8" stroke-linejoin="round" stroke-linecap="butt" stroke-dasharray="12.9 5.6" />
<path d="M1222,130.7 L1249.5,147.4 L1277,167.7 L1304.5,191.4 L1332,215.1 L1359.5,240 L1387,268.4 L1414.5,299.2 L1442,330.2 L1469.5,360.5 L1497,389.3 L1524.5,413.5 L1552,430.2 L1579.5,443.7 L1607,449.2 L1634.5,446.2 L1662,436.1 L1689.5,422.5 L1717,407.3 L1744.5,393.7 L1772,382.8 L1799.5,371.3 L1827,363.1 L1854.5,356.1 L1882,350.1 L1909.5,345.5 L1937,341.9 L1964.5,338.5 L1992,335.5 L2019.5,332.8" fill="none" stroke="#fde725" stroke-width="3.8" stroke-linejoin="round" stroke-linecap="square" />
<path d="M1222,148.3 L1249.5,158 L1277,180.8 L1304.5,203.5 L1332,224.8 L1359.5,249.1 L1387,274.5 L1414.5,302.8 L1442,334.7 L1469.5,362 L1497,389.3 L1524.5,413.5 L1552,430.2 L1579.5,443.7 L1607,449.2 L1634.5,446.2 L1662,436.1 L1689.5,422.5 L1717,407.3 L1744.5,393.7 L1772,382.8 L1799.5,371.3 L1827,363.1 L1854.5,356.1 L1882,350.1 L1909.5,345.5 L1937,341.9 L1964.5,338.5 L1992,335.5 L2019.5,332.8" fill="none" stroke="#fde725" stroke-width="3.8" stroke-linejoin="round" stroke-linecap="butt" stroke-dasharray="12.9 5.6" />
</g>
<line x1="1222" y1="698.1" x2="1222" y2="706.2" stroke="#000" stroke-width="1.85" />
<line x1="2037.67" y1="698.1" x2="2037.67" y2="706.2" stroke="#000" stroke-width="1.85" />
<line x1="1184.68" y1="698.1" x2="1184.68" y2="702.7" stroke="#000" stroke-width="1.4" />
<line x1="1467.54" y1="698.1" x2="1467.54" y2="702.7" stroke="#000" stroke-width="1.4" />
<line x1="1611.17" y1="698.1" x2="1611.17" y2="702.7" stroke="#000" stroke-width="1.4" />
<line x1="1713.08" y1="698.1" x2="1713.08" y2="702.7" stroke="#000" stroke-width="1.4" />
<line x1="1792.13" y1="698.1" x2="1792.13" y2="702.7" stroke="#000" stroke-width="1.4" />
<line x1="1856.71" y1="698.1" x2="1856.71" y2="702.7" stroke="#000" stroke-width="1.4" />
<line x1="1911.32" y1="698.1" x2="1911.32" y2="702.7" stroke="#000" stroke-width="1.4" />
<line x1="1958.62" y1="698.1" x2="1958.62" y2="702.7" stroke="#000" stroke-width="1.4" />
<line x1="2000.34" y1="698.1" x2="2000.34" y2="702.7" stroke="#000" stroke-width="1.4" />
<line x1="1177.42" y1="624.19" x2="1182.08" y2="624.19" stroke="#000" stroke-width="1.4" />
<line x1="1177.42" y1="502.33" x2="1182.08" y2="502.33" stroke="#000" stroke-width="1.4" />
<line x1="1177.42" y1="415.87" x2="1182.08" y2="415.87" stroke="#000" stroke-width="1.4" />
<line x1="1177.42" y1="348.81" x2="1182.08" y2="348.81" stroke="#000" stroke-width="1.4" />
<line x1="1177.42" y1="294.02" x2="1182.08" y2="294.02" stroke="#000" stroke-width="1.4" />
<line x1="1177.42" y1="247.69" x2="1182.08" y2="247.69" stroke="#000" stroke-width="1.4" />
<line x1="1177.42" y1="207.56" x2="1182.08" y2="207.56" stroke="#000" stroke-width="1.4" />
<line x1="1177.42" y1="172.16" x2="1182.08" y2="172.16" stroke="#000" stroke-width="1.4" />
<line x1="1174" y1="140.5" x2="1182.08" y2="140.5" stroke="#000" stroke-width="1.85" />
<rect x="1182.08" y="59.8" width="877.58" height="638.3" fill="none" stroke="#000" stroke-width="1.85"/>
<text x="1221.17" y="733.7" font-family="'DejaVu Sans','Liberation Sans',sans-serif" font-size="23.1" text-anchor="middle" >10<tspan dy="-8.55" dx="0.69" font-size="16.17">−1</tspan></text>
<text x="2036.83" y="733.7" font-family="'DejaVu Sans','Liberation Sans',sans-serif" font-size="23.1" text-anchor="middle" >10<tspan dy="-8.55" dx="0.69" font-size="16.17">0</tspan></text>
<text x="1164.67" y="149.8" font-family="'DejaVu Sans','Liberation Sans',sans-serif" font-size="23.1" text-anchor="end" >10<tspan dy="-8.55" dx="0.69" font-size="16.17">4</tspan></text>
<text x="1166.83" y="303.3" font-family="'DejaVu Sans','Liberation Sans',sans-serif" font-size="23.1" text-anchor="end" >6<tspan dx="3.81">×</tspan><tspan dx="3.81">10</tspan><tspan dy="-8.55" dx="0.69" font-size="16.17">3</tspan></text>
<text x="1166.83" y="425.2" font-family="'DejaVu Sans','Liberation Sans',sans-serif" font-size="23.1" text-anchor="end" >4<tspan dx="3.81">×</tspan><tspan dx="3.81">10</tspan><tspan dy="-8.55" dx="0.69" font-size="16.17">3</tspan></text>
<text x="1166.83" y="511.6" font-family="'DejaVu Sans','Liberation Sans',sans-serif" font-size="23.1" text-anchor="end" >3<tspan dx="3.81">×</tspan><tspan dx="3.81">10</tspan><tspan dy="-8.55" dx="0.69" font-size="16.17">3</tspan></text>
<text x="1166.83" y="633.5" font-family="'DejaVu Sans','Liberation Sans',sans-serif" font-size="23.1" text-anchor="end" >2<tspan dx="3.81">×</tspan><tspan dx="3.81">10</tspan><tspan dy="-8.55" dx="0.69" font-size="16.17">3</tspan></text>
<text x="1619.83" y="768" font-family="'DejaVu Sans','Liberation Sans',sans-serif" font-size="23.1" text-anchor="middle" font-style="oblique" >α</text>
<text transform="translate(1072.92,378.3) rotate(-90)" font-family="'DejaVu Sans','Liberation Sans',sans-serif" font-size="23.91" text-anchor="middle">Squared Error</text>
<text transform="translate(1342.51,43.7) scale(1.177,1)" font-family="'DejaVu Math TeX Gyre','DejaVu Serif',serif" font-size="23.82" stroke="#000" stroke-width="0.33" stroke-linejoin="round">ℰ</text>
<text x="1354.08" y="36.9" font-family="'DejaVu Sans','Liberation Sans',sans-serif" font-size="27.7" text-anchor="middle" >ˆ</text>
<text x="1359.35" y="48.5" font-family="'DejaVu Sans','Liberation Sans',sans-serif" font-size="19.39" text-anchor="start" >Aug</text>
<text x="1397.7" y="43.7" font-family="'DejaVu Sans','Liberation Sans',sans-serif" font-size="27.7" text-anchor="start" >(0)</text>
<text x="1445.59" y="43.7" font-family="'DejaVu Sans','Liberation Sans',sans-serif" font-size="27.7" text-anchor="start" >vs</text>
<text transform="translate(1483.42,43.7) scale(1.177,1)" font-family="'DejaVu Math TeX Gyre','DejaVu Serif',serif" font-size="23.82" stroke="#000" stroke-width="0.33" stroke-linejoin="round">ℰ</text>
<text transform="translate(1500.43,32.6) scale(1.218,1)" font-family="'DejaVu Math TeX Gyre','DejaVu Serif',serif" font-size="15.24" stroke="#000" stroke-width="0.21" stroke-linejoin="round">𝒟</text>
<text x="1500.27" y="51.5" font-family="'DejaVu Sans','Liberation Sans',sans-serif" font-size="19.39" text-anchor="start" >Aug</text>
<text x="1538.29" y="43.7" font-family="'DejaVu Sans','Liberation Sans',sans-serif" font-size="27.7" text-anchor="start" >(0)</text>
<text x="1586.11" y="43.7" font-family="'DejaVu Sans','Liberation Sans',sans-serif" font-size="27.7" text-anchor="start" >Gaussian mixture GDA</text>
<rect x="1859.58" y="72.1" width="189.58" height="209.7" rx="4" ry="4.6" fill="#fff" fill-opacity="0.8" stroke="#ccc" stroke-opacity="0.8" stroke-width="1.85"/>
<line x1="1870.33" y1="96.7" x2="1919.25" y2="96.7" stroke="#000" stroke-width="2.3" />
<line x1="1870.33" y1="147.1" x2="1919.25" y2="147.1" stroke="#000" stroke-width="2.3" stroke-dasharray="7.1 3.1"/>
<line x1="1869.83" y1="186.6" x2="1920" y2="186.6" stroke="#440154" stroke-width="4.6" />
<line x1="1869.83" y1="221.1" x2="1920" y2="221.1" stroke="#21918c" stroke-width="4.6" />
<line x1="1869.83" y1="256.4" x2="1920" y2="256.4" stroke="#fde725" stroke-width="4.6" />
<text transform="translate(1935.13,102.6) scale(1.177,1)" font-family="'DejaVu Math TeX Gyre','DejaVu Serif',serif" font-size="19.87" stroke="#000" stroke-width="0.28" stroke-linejoin="round">ℰ</text>
<text transform="translate(1949.31,93.34) scale(1.218,1)" font-family="'DejaVu Math TeX Gyre','DejaVu Serif',serif" font-size="12.71" stroke="#000" stroke-width="0.18" stroke-linejoin="round">𝒟</text>
<text x="1949.17" y="109.1" font-family="'DejaVu Sans','Liberation Sans',sans-serif" font-size="16.17" text-anchor="start" >Aug</text>
<text x="1980.88" y="102.6" font-family="'DejaVu Sans','Liberation Sans',sans-serif" font-size="23.1" text-anchor="start" >(0)</text>
<text transform="translate(1935.13,153.5) scale(1.177,1)" font-family="'DejaVu Math TeX Gyre','DejaVu Serif',serif" font-size="19.87" stroke="#000" stroke-width="0.28" stroke-linejoin="round">ℰ</text>
<text x="1944.78" y="147.83" font-family="'DejaVu Sans','Liberation Sans',sans-serif" font-size="23.1" text-anchor="middle" >ˆ</text>
<text x="1949.17" y="157.5" font-family="'DejaVu Sans','Liberation Sans',sans-serif" font-size="16.17" text-anchor="start" >Aug</text>
<text x="1981.16" y="153.5" font-family="'DejaVu Sans','Liberation Sans',sans-serif" font-size="23.1" text-anchor="start" >(0)</text>
<text x="1936" y="195" font-family="'DejaVu Sans','Liberation Sans',sans-serif" font-size="23.1" text-anchor="start" ><tspan font-style="oblique">σ</tspan><tspan dx="6.93">=</tspan><tspan dx="6.93">0.04</tspan></text>
<text x="1936" y="229.5" font-family="'DejaVu Sans','Liberation Sans',sans-serif" font-size="23.1" text-anchor="start" ><tspan font-style="oblique">σ</tspan><tspan dx="6.93">=</tspan><tspan dx="6.93">0.08</tspan></text>
<text x="1936" y="264.8" font-family="'DejaVu Sans','Liberation Sans',sans-serif" font-size="23.1" text-anchor="start" ><tspan font-style="oblique">σ</tspan><tspan dx="6.93">=</tspan><tspan dx="6.93">0.39</tspan></text>
</g>
<g id="c3">
<line x1="2225.34" y1="59.8" x2="2225.34" y2="698.1" stroke="#adadad" stroke-width="1.0" stroke-dasharray="4.3 1.85"/>
<line x1="2262.67" y1="59.8" x2="2262.67" y2="698.1" stroke="#adadad" stroke-width="1.0" stroke-dasharray="4.3 1.85"/>
<line x1="2508.21" y1="59.8" x2="2508.21" y2="698.1" stroke="#adadad" stroke-width="1.0" stroke-dasharray="4.3 1.85"/>
<line x1="2651.84" y1="59.8" x2="2651.84" y2="698.1" stroke="#adadad" stroke-width="1.0" stroke-dasharray="4.3 1.85"/>
<line x1="2753.75" y1="59.8" x2="2753.75" y2="698.1" stroke="#adadad" stroke-width="1.0" stroke-dasharray="4.3 1.85"/>
<line x1="2832.79" y1="59.8" x2="2832.79" y2="698.1" stroke="#adadad" stroke-width="1.0" stroke-dasharray="4.3 1.85"/>
<line x1="2897.38" y1="59.8" x2="2897.38" y2="698.1" stroke="#adadad" stroke-width="1.0" stroke-dasharray="4.3 1.85"/>
<line x1="2951.98" y1="59.8" x2="2951.98" y2="698.1" stroke="#adadad" stroke-width="1.0" stroke-dasharray="4.3 1.85"/>
<line x1="2999.29" y1="59.8" x2="2999.29" y2="698.1" stroke="#adadad" stroke-width="1.0" stroke-dasharray="4.3 1.85"/>
<line x1="3041.01" y1="59.8" x2="3041.01" y2="698.1" stroke="#adadad" stroke-width="1.0" stroke-dasharray="4.3 1.85"/>
<line x1="3078.33" y1="59.8" x2="3078.33" y2="698.1" stroke="#adadad" stroke-width="1.0" stroke-dasharray="4.3 1.85"/>
<line x1="2222.75" y1="686.99" x2="3100.33" y2="686.99" stroke="#adadad" stroke-width="1.15" stroke-dasharray="4.25 1.9"/>
<line x1="2222.75" y1="547.5" x2="3100.33" y2="547.5" stroke="#adadad" stroke-width="1.15" stroke-dasharray="4.25 1.9"/>
<line x1="2222.75" y1="439.3" x2="3100.33" y2="439.3" stroke="#adadad" stroke-width="1.15" stroke-dasharray="4.25 1.9"/>
<line x1="2222.75" y1="350.89" x2="3100.33" y2="350.89" stroke="#adadad" stroke-width="1.15" stroke-dasharray="4.25 1.9"/>
<line x1="2222.75" y1="276.15" x2="3100.33" y2="276.15" stroke="#adadad" stroke-width="1.15" stroke-dasharray="4.25 1.9"/>
<line x1="2222.75" y1="211.4" x2="3100.33" y2="211.4" stroke="#adadad" stroke-width="1.15" stroke-dasharray="4.25 1.9"/>
<line x1="2222.75" y1="154.29" x2="3100.33" y2="154.29" stroke="#adadad" stroke-width="1.15" stroke-dasharray="4.25 1.9"/>
<line x1="2222.75" y1="103.2" x2="3100.33" y2="103.2" stroke="#adadad" stroke-width="1.15" stroke-dasharray="4.25 1.9"/>
<clipPath id="cp3"><rect x="2222.75" y="59.8" width="877.58" height="638.3"/></clipPath><g clip-path="url(#cp3)">
<path d="M2262.67,87.5 L2290.17,114.5 L2317.67,151 L2345.17,188.5 L2372.67,231 L2400.17,279 L2427.67,320 L2455.17,370.3 L2482.67,415.3 L2510.17,459 L2537.67,508 L2565.17,551.9 L2592.67,589.9 L2620.17,612 L2647.67,623.3 L2675.17,620.2 L2702.67,606.6 L2730.17,586.8 L2757.67,564.1 L2785.17,538 L2812.67,516 L2840.17,496.6 L2867.67,481.4 L2895.17,468.6 L2922.67,457.7 L2950.17,448.6 L2977.67,440.4 L3005.17,433.7 L3032.67,427.7 L3060.17,422.2" fill="none" stroke="#440154" stroke-width="3.8" stroke-linejoin="round" stroke-linecap="square" />
<path d="M2262.67,114.9 L2290.17,144 L2317.67,182.9 L2345.17,214 L2372.67,247.3 L2400.17,300.8 L2427.67,348 L2455.17,391 L2482.67,442 L2510.17,498 L2537.67,545.9 L2565.17,594.4 L2592.67,630.8 L2620.17,656.6 L2647.67,668.2 L2675.17,664.2 L2702.67,647.5 L2730.17,621.7 L2757.67,595.9 L2785.17,570.2 L2812.67,547 L2840.17,525.4 L2867.67,506.3 L2895.17,490.5 L2922.67,477.8 L2950.17,466.2 L2977.67,456.5 L3005.17,448 L3032.67,440.4 L3060.17,433.7" fill="none" stroke="#440154" stroke-width="3.8" stroke-linejoin="round" stroke-linecap="butt" stroke-dasharray="12.9 5.6" />
<path d="M2262.67,88.7 L2290.17,116.6 L2317.67,153 L2345.17,189.5 L2372.67,230.8 L2400.17,278.2 L2427.67,318 L2455.17,365.5 L2482.67,408 L2510.17,448 L2537.67,493 L2565.17,532.2 L2592.67,556.5 L2620.17,570.8 L2647.67,574.7 L2675.17,565.6 L2702.67,545.9 L2730.17,521.6 L2757.67,498.8 L2785.17,479.5 L2812.67,464.7 L2840.17,452 L2867.67,441.3 L2895.17,432.8 L2922.67,426.2 L2950.17,420.7 L2977.67,415.5 L3005.17,411.6 L3032.67,408 L3060.17,404.6" fill="none" stroke="#21918c" stroke-width="3.8" stroke-linejoin="round" stroke-linecap="square" />
<path d="M2262.67,121 L2290.17,139.2 L2317.67,173.2 L2345.17,208.5 L2372.67,246.1 L2400.17,289.8 L2427.67,326.2 L2455.17,380 L2482.67,423.8 L2510.17,462.6 L2537.67,501 L2565.17,542.8 L2592.67,568.6 L2620.17,585.3 L2647.67,589.9 L2675.17,579.3 L2702.67,559.5 L2730.17,535.3 L2757.67,512.5 L2785.17,491 L2812.67,474.2 L2840.17,460.2 L2867.67,448 L2895.17,438.9 L2922.67,431.3 L2950.17,424.6 L2977.67,419.2 L3005.17,414.6 L3032.67,411 L3060.17,407.6" fill="none" stroke="#21918c" stroke-width="3.8" stroke-linejoin="round" stroke-linecap="butt" stroke-dasharray="12.9 5.6" />
<path d="M2262.67,88.2 L2290.17,116.1 L2317.67,152.5 L2345.17,189 L2372.67,230.3 L2400.17,277.7 L2427.67,316.5 L2455.17,361.8 L2482.67,403.1 L2510.17,442 L2537.67,483.7 L2565.17,515.5 L2592.67,536.8 L2620.17,547.4 L2647.67,548.3 L2675.17,535.3 L2702.67,515.5 L2730.17,492.8 L2757.67,471.5 L2785.17,454.1 L2812.67,441.3 L2840.17,430.7 L2867.67,423.1 L2895.17,416.8 L2922.67,411.6 L2950.17,407.6 L2977.67,404.3 L3005.17,401.9 L3032.67,399.5 L3060.17,397.6" fill="none" stroke="#fde725" stroke-width="3.8" stroke-linejoin="round" stroke-linecap="square" />
<path d="M2262.67,110.1 L2290.17,134.3 L2317.67,169.5 L2345.17,203.5 L2372.67,241.3 L2400.17,283.8 L2427.67,321.4 L2455.17,369.1 L2482.67,410.4 L2510.17,449.2 L2537.67,490.5 L2565.17,523.1 L2592.67,544.4 L2620.17,558 L2647.67,556.5 L2675.17,542.8 L2702.67,521.6 L2730.17,497.9 L2757.67,476.1 L2785.17,458 L2812.67,445 L2840.17,434 L2867.67,426 L2895.17,419.5 L2922.67,414 L2950.17,410 L2977.67,406.5 L3005.17,404 L3032.67,401.5 L3060.17,399.5" fill="none" stroke="#fde725" stroke-width="3.8" stroke-linejoin="round" stroke-linecap="butt" stroke-dasharray="12.9 5.6" />
</g>
<line x1="2262.67" y1="698.1" x2="2262.67" y2="706.2" stroke="#000" stroke-width="1.85" />
<line x1="3078.33" y1="698.1" x2="3078.33" y2="706.2" stroke="#000" stroke-width="1.85" />
<line x1="2225.34" y1="698.1" x2="2225.34" y2="702.7" stroke="#000" stroke-width="1.4" />
<line x1="2508.21" y1="698.1" x2="2508.21" y2="702.7" stroke="#000" stroke-width="1.4" />
<line x1="2651.84" y1="698.1" x2="2651.84" y2="702.7" stroke="#000" stroke-width="1.4" />
<line x1="2753.75" y1="698.1" x2="2753.75" y2="702.7" stroke="#000" stroke-width="1.4" />
<line x1="2832.79" y1="698.1" x2="2832.79" y2="702.7" stroke="#000" stroke-width="1.4" />
<line x1="2897.38" y1="698.1" x2="2897.38" y2="702.7" stroke="#000" stroke-width="1.4" />
<line x1="2951.98" y1="698.1" x2="2951.98" y2="702.7" stroke="#000" stroke-width="1.4" />
<line x1="2999.29" y1="698.1" x2="2999.29" y2="702.7" stroke="#000" stroke-width="1.4" />
<line x1="3041.01" y1="698.1" x2="3041.01" y2="702.7" stroke="#000" stroke-width="1.4" />
<line x1="2218.08" y1="686.99" x2="2222.75" y2="686.99" stroke="#000" stroke-width="1.4" />
<line x1="2218.08" y1="547.5" x2="2222.75" y2="547.5" stroke="#000" stroke-width="1.4" />
<line x1="2218.08" y1="439.3" x2="2222.75" y2="439.3" stroke="#000" stroke-width="1.4" />
<line x1="2218.08" y1="350.89" x2="2222.75" y2="350.89" stroke="#000" stroke-width="1.4" />
<line x1="2218.08" y1="276.15" x2="2222.75" y2="276.15" stroke="#000" stroke-width="1.4" />
<line x1="2218.08" y1="211.4" x2="2222.75" y2="211.4" stroke="#000" stroke-width="1.4" />
<line x1="2218.08" y1="154.29" x2="2222.75" y2="154.29" stroke="#000" stroke-width="1.4" />
<line x1="2214.67" y1="103.2" x2="2222.75" y2="103.2" stroke="#000" stroke-width="1.85" />
<rect x="2222.75" y="59.8" width="877.58" height="638.3" fill="none" stroke="#000" stroke-width="1.85"/>
<text x="2261.83" y="733.7" font-family="'DejaVu Sans','Liberation Sans',sans-serif" font-size="23.1" text-anchor="middle" >10<tspan dy="-8.55" dx="0.69" font-size="16.17">−1</tspan></text>
<text x="3077.5" y="733.7" font-family="'DejaVu Sans','Liberation Sans',sans-serif" font-size="23.1" text-anchor="middle" >10<tspan dy="-8.55" dx="0.69" font-size="16.17">0</tspan></text>
<text x="2205.33" y="112.5" font-family="'DejaVu Sans','Liberation Sans',sans-serif" font-size="23.1" text-anchor="end" >10<tspan dy="-8.55" dx="0.69" font-size="16.17">4</tspan></text>
<text x="2207.5" y="360.2" font-family="'DejaVu Sans','Liberation Sans',sans-serif" font-size="23.1" text-anchor="end" >6<tspan dx="3.81">×</tspan><tspan dx="3.81">10</tspan><tspan dy="-8.55" dx="0.69" font-size="16.17">3</tspan></text>
<text x="2207.5" y="556.8" font-family="'DejaVu Sans','Liberation Sans',sans-serif" font-size="23.1" text-anchor="end" >4<tspan dx="3.81">×</tspan><tspan dx="3.81">10</tspan><tspan dy="-8.55" dx="0.69" font-size="16.17">3</tspan></text>
<text x="2207.5" y="696.3" font-family="'DejaVu Sans','Liberation Sans',sans-serif" font-size="23.1" text-anchor="end" >3<tspan dx="3.81">×</tspan><tspan dx="3.81">10</tspan><tspan dy="-8.55" dx="0.69" font-size="16.17">3</tspan></text>
<text x="2660.5" y="768" font-family="'DejaVu Sans','Liberation Sans',sans-serif" font-size="23.1" text-anchor="middle" font-style="oblique" >α</text>
<text transform="translate(2113.58,378.3) rotate(-90)" font-family="'DejaVu Sans','Liberation Sans',sans-serif" font-size="23.91" text-anchor="middle">Squared Error</text>
<text transform="translate(2400.59,43.7) scale(1.177,1)" font-family="'DejaVu Math TeX Gyre','DejaVu Serif',serif" font-size="23.82" stroke="#000" stroke-width="0.33" stroke-linejoin="round">ℰ</text>
<text x="2412.17" y="36.9" font-family="'DejaVu Sans','Liberation Sans',sans-serif" font-size="27.7" text-anchor="middle" >ˆ</text>
<text x="2417.43" y="48.5" font-family="'DejaVu Sans','Liberation Sans',sans-serif" font-size="19.39" text-anchor="start" >Aug</text>
<text x="2455.79" y="43.7" font-family="'DejaVu Sans','Liberation Sans',sans-serif" font-size="27.7" text-anchor="start" >(0)</text>
<text x="2503.67" y="43.7" font-family="'DejaVu Sans','Liberation Sans',sans-serif" font-size="27.7" text-anchor="start" >vs</text>
<text transform="translate(2541.51,43.7) scale(1.177,1)" font-family="'DejaVu Math TeX Gyre','DejaVu Serif',serif" font-size="23.82" stroke="#000" stroke-width="0.33" stroke-linejoin="round">ℰ</text>
<text transform="translate(2558.51,32.6) scale(1.218,1)" font-family="'DejaVu Math TeX Gyre','DejaVu Serif',serif" font-size="15.24" stroke="#000" stroke-width="0.21" stroke-linejoin="round">𝒟</text>
<text x="2558.35" y="51.5" font-family="'DejaVu Sans','Liberation Sans',sans-serif" font-size="19.39" text-anchor="start" >Aug</text>
<text x="2596.37" y="43.7" font-family="'DejaVu Sans','Liberation Sans',sans-serif" font-size="27.7" text-anchor="start" >(0)</text>
<text x="2644.19" y="43.7" font-family="'DejaVu Sans','Liberation Sans',sans-serif" font-size="27.7" text-anchor="start" >Gaussian Noise TDA</text>
<rect x="2900.25" y="72.1" width="189.58" height="209.7" rx="4" ry="4.6" fill="#fff" fill-opacity="0.8" stroke="#ccc" stroke-opacity="0.8" stroke-width="1.85"/>
<line x1="2911" y1="96.7" x2="2959.92" y2="96.7" stroke="#000" stroke-width="2.3" />
<line x1="2911" y1="147.1" x2="2959.92" y2="147.1" stroke="#000" stroke-width="2.3" stroke-dasharray="7.1 3.1"/>
<line x1="2910.5" y1="186.6" x2="2960.67" y2="186.6" stroke="#440154" stroke-width="4.6" />
<line x1="2910.5" y1="221.1" x2="2960.67" y2="221.1" stroke="#21918c" stroke-width="4.6" />
<line x1="2910.5" y1="256.4" x2="2960.67" y2="256.4" stroke="#fde725" stroke-width="4.6" />
<text transform="translate(2975.8,102.6) scale(1.177,1)" font-family="'DejaVu Math TeX Gyre','DejaVu Serif',serif" font-size="19.87" stroke="#000" stroke-width="0.28" stroke-linejoin="round">ℰ</text>
<text transform="translate(2989.98,93.34) scale(1.218,1)" font-family="'DejaVu Math TeX Gyre','DejaVu Serif',serif" font-size="12.71" stroke="#000" stroke-width="0.18" stroke-linejoin="round">𝒟</text>
<text x="2989.84" y="109.1" font-family="'DejaVu Sans','Liberation Sans',sans-serif" font-size="16.17" text-anchor="start" >Aug</text>
<text x="3021.55" y="102.6" font-family="'DejaVu Sans','Liberation Sans',sans-serif" font-size="23.1" text-anchor="start" >(0)</text>
<text transform="translate(2975.8,153.5) scale(1.177,1)" font-family="'DejaVu Math TeX Gyre','DejaVu Serif',serif" font-size="19.87" stroke="#000" stroke-width="0.28" stroke-linejoin="round">ℰ</text>
<text x="2985.45" y="147.83" font-family="'DejaVu Sans','Liberation Sans',sans-serif" font-size="23.1" text-anchor="middle" >ˆ</text>
<text x="2989.84" y="157.5" font-family="'DejaVu Sans','Liberation Sans',sans-serif" font-size="16.17" text-anchor="start" >Aug</text>
<text x="3021.83" y="153.5" font-family="'DejaVu Sans','Liberation Sans',sans-serif" font-size="23.1" text-anchor="start" >(0)</text>
<text x="2976.67" y="195" font-family="'DejaVu Sans','Liberation Sans',sans-serif" font-size="23.1" text-anchor="start" ><tspan font-style="oblique">σ</tspan><tspan dx="6.93">=</tspan><tspan dx="6.93">0.23</tspan></text>
<text x="2976.67" y="229.5" font-family="'DejaVu Sans','Liberation Sans',sans-serif" font-size="23.1" text-anchor="start" ><tspan font-style="oblique">σ</tspan><tspan dx="6.93">=</tspan><tspan dx="6.93">0.46</tspan></text>
<text x="2976.67" y="264.8" font-family="'DejaVu Sans','Liberation Sans',sans-serif" font-size="23.1" text-anchor="start" ><tspan font-style="oblique">σ</tspan><tspan dx="6.93">=</tspan><tspan dx="6.93">0.70</tspan></text>
</g>
</g>
</svg>
<p class="cap" id="capa" style="left:19.5px">(a) Non-augmented, Ridge-like estimator.</p>
<p class="cap" id="capb" style="left:1294.8px">(b) 10-centroid Gaussian mixture GDA.</p>
<p class="cap" id="capc" style="left:2759.2px">(c) Gaussian noise TDA.</p>
</body></html>
